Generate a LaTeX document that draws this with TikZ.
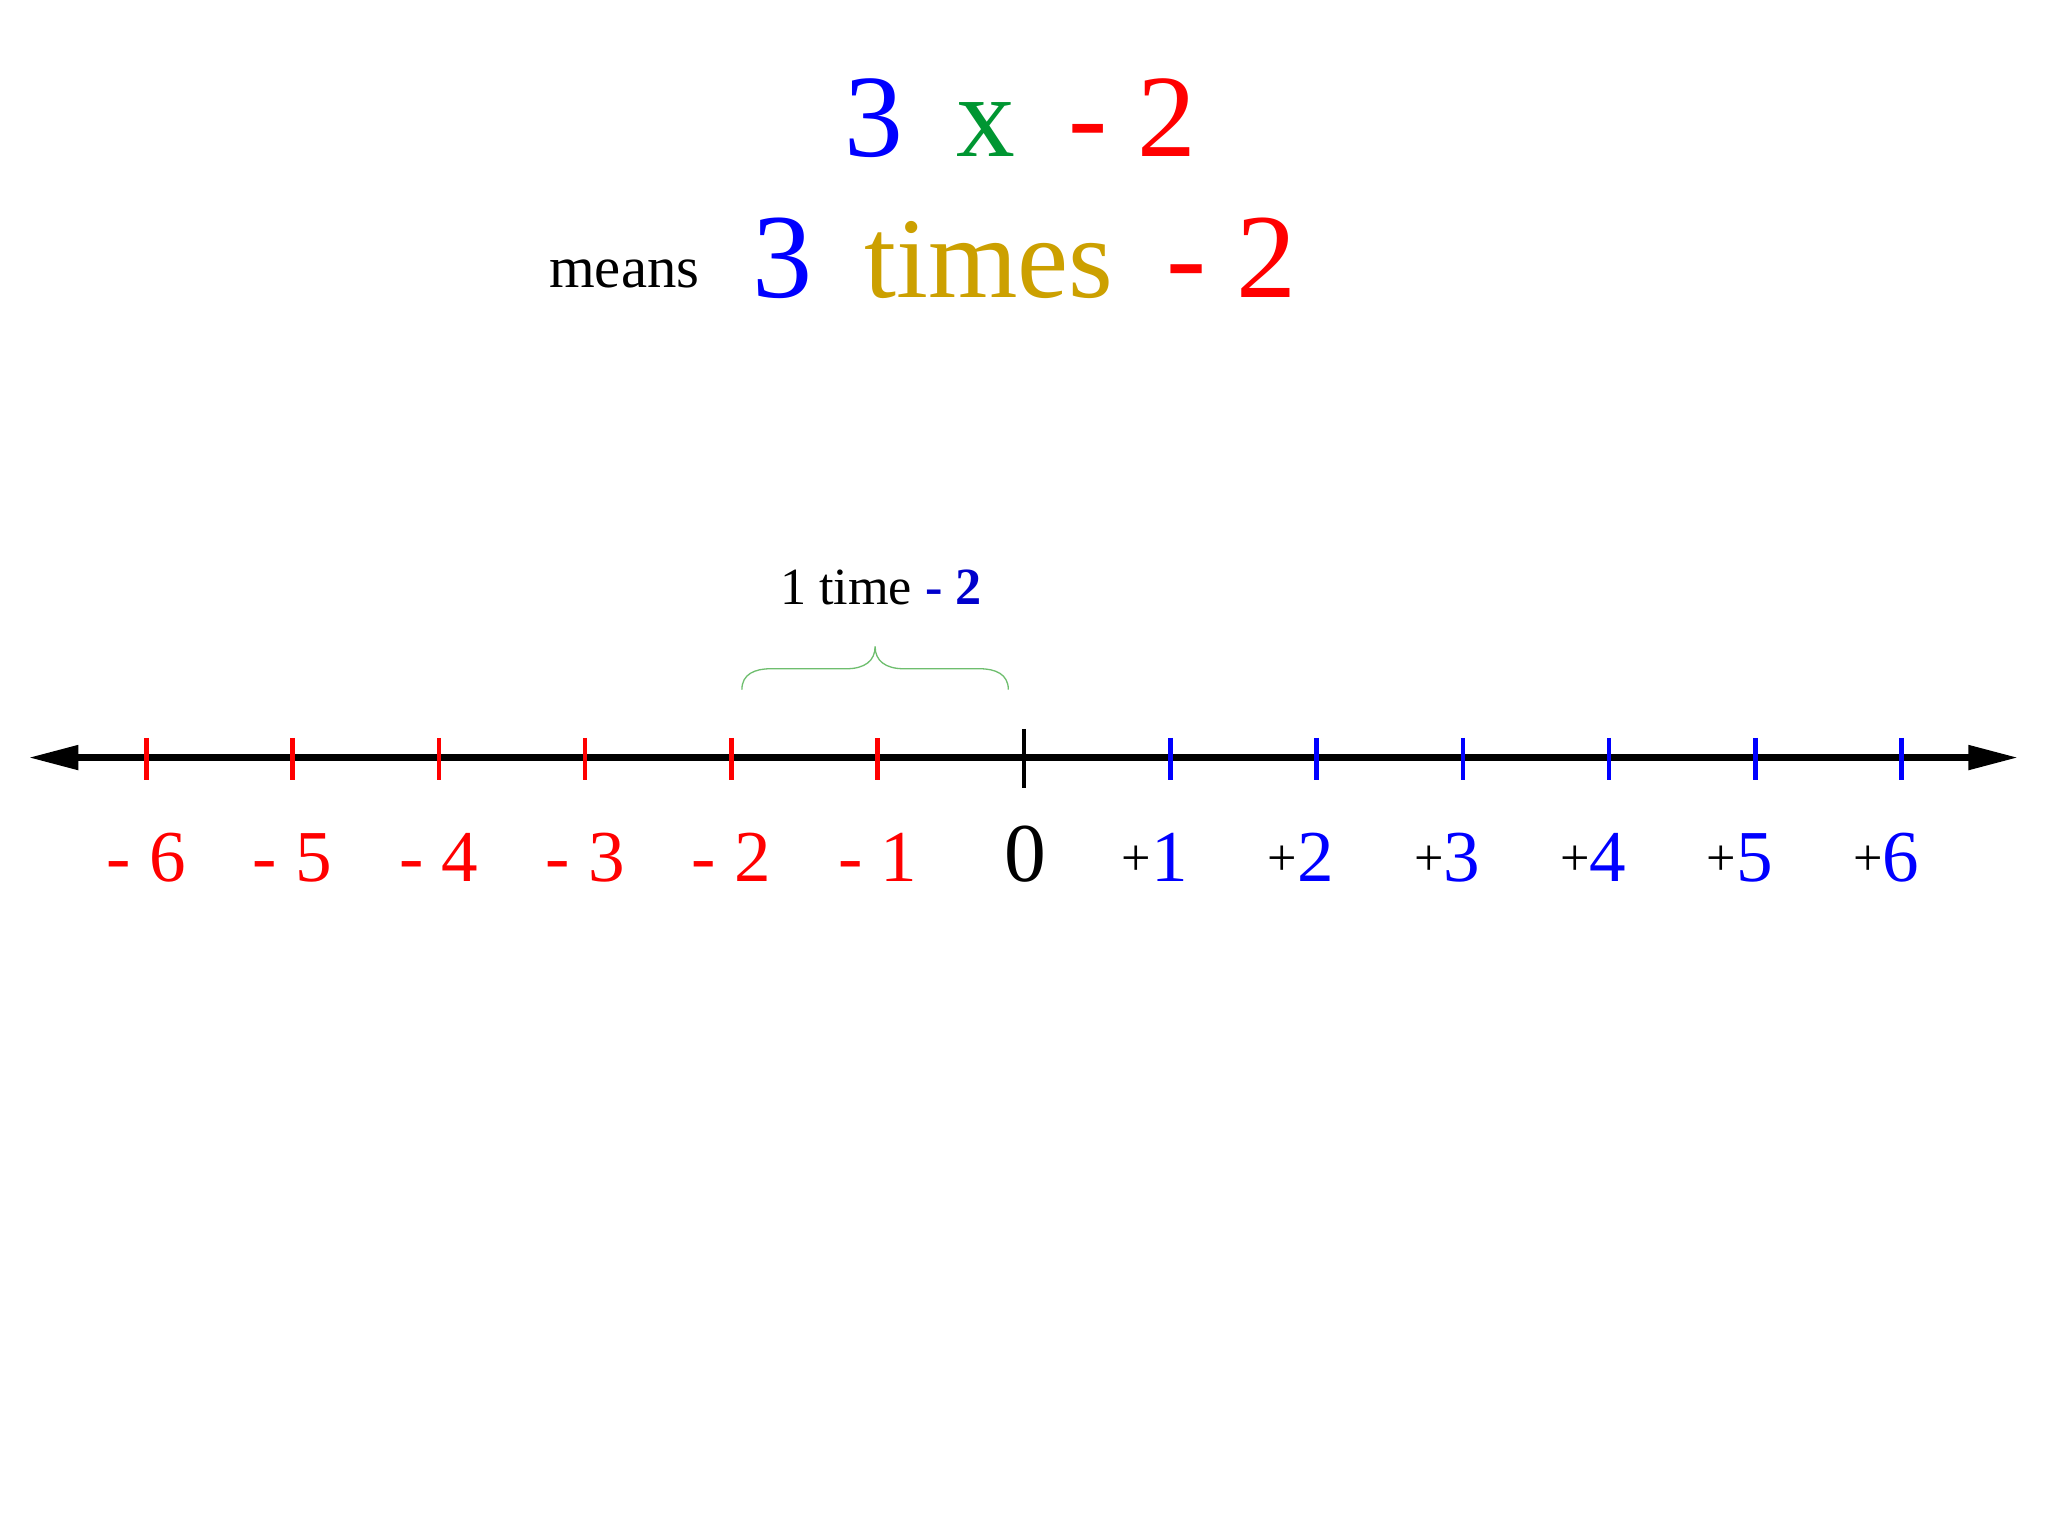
\documentclass[tikz,border=0pt]{standalone}
\usepackage{fontspec}
\setmainfont{Liberation Serif}
\usetikzlibrary{arrows.meta}
\definecolor{myblue}{RGB}{0,0,255}
\definecolor{myred}{RGB}{255,0,0}
\definecolor{mygreen}{RGB}{0,150,50}
\definecolor{mygold}{RGB}{204,160,0}
\definecolor{darkblue}{RGB}{0,0,204}
\definecolor{bracegreen}{RGB}{110,190,110}
\begin{document}
\begin{tikzpicture}[x=1pt,y=-1pt,
  big/.style={inner sep=0pt,anchor=base,font=\fontsize{90}{100}\selectfont},
  lab/.style={inner sep=0pt,anchor=base,font=\fontsize{56}{60}\selectfont},
  axisline/.style={line width=5pt,{Triangle[length=38pt,width=18pt]}-{Triangle[length=38pt,width=18pt]}},
  negtick/.style={myred,line width=3.5pt},
  postick/.style={myblue,line width=3.5pt},
  zerotick/.style={black,line width=3.5pt},
  bracestyle/.style={bracegreen,line width=1pt}]
\useasboundingbox[fill=white] (0,0) rectangle (1568,1175);
% formula
\node[big,text=myblue] (a3) at (669,120) {3};
\node[big,text=mygreen] (ax) at (755,120) {x};
\node[big,text=myred] (am2) at (867,120) {- 2};
\node[inner sep=0pt,anchor=base,font=\fontsize{45}{50}\selectfont] (means) at (478,220) {means};
\node[big,text=myblue,font=\fontsize{92}{100}\selectfont] (b3) at (599,228) {3};
\node[big,text=mygold,font=\fontsize{88}{100}\selectfont] (btimes) at (757,228) {times};
\node[big,text=myred,font=\fontsize{92}{100}\selectfont] (bm2) at (943,228) {- 2};
% axis
\coordinate (L) at (22,580);
\coordinate (R) at (1545,580);
\draw[axisline] (L) -- (R);
\foreach \i/\x in {6/112,5/224,4/336,3/448,2/560,1/672}{
  \coordinate (nt\i) at (\x,565);
  \coordinate (nb\i) at (\x,597);
  \draw[negtick] (nt\i) -- (nb\i);
  \node[lab,text=myred] (nl\i) at (\x,675) {- \i};
}
\coordinate (zt) at (784,558);
\coordinate (zb) at (784,603);
\draw[zerotick] (zt) -- (zb);
\node[lab,font=\fontsize{64}{70}\selectfont] (zl) at (785,675) {0};
\foreach \i/\x in {1/896,2/1008,3/1120,4/1232,5/1344,6/1456}{
  \coordinate (pt\i) at (\x,565);
  \coordinate (pb\i) at (\x,597);
  \draw[postick] (pt\i) -- (pb\i);
  \node[lab] (pl\i) at (\x-12,675) {\raisebox{5pt}{\fontsize{40}{44}\selectfont +}{\color{myblue}\i}};
}
% brace
\coordinate (b1) at (568,528);
\coordinate (b2) at (590,512);
\coordinate (b3) at (648,512);
\coordinate (btip) at (670,495);
\coordinate (b5) at (692,512);
\coordinate (b6) at (750,512);
\coordinate (b7) at (772,528);
\draw[bracestyle] (b1) .. controls (568,516) and (578,512) .. (b2) -- (b3)
  .. controls (662,512) and (670,506) .. (btip)
  .. controls (670,506) and (678,512) .. (b5) -- (b6)
  .. controls (762,512) and (772,516) .. (b7);
\node[inner sep=0pt,anchor=base west,font=\fontsize{40}{44}\selectfont] (lbl) at (597,463) {1 time {\color{darkblue}\bfseries - 2}};
\end{tikzpicture}
\end{document}
